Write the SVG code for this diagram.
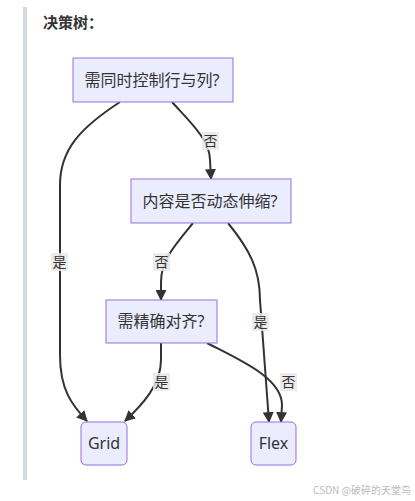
<svg xmlns="http://www.w3.org/2000/svg" width="415" height="501" viewBox="0 0 415 501">
<style>
.node rect{fill:#ECECFF;stroke:#9370DB;stroke-width:1}
.nt{font-family:"Noto Sans","Noto Sans CJK SC",sans-serif;font-size:16px;fill:#333;text-anchor:middle}
.edge{fill:none;stroke:#333;stroke-width:2;marker-end:url(#arr)}
.lbg{fill:#e8e8e8;opacity:0.85}
.lt{font-family:"Noto Sans CJK SC",sans-serif;font-size:14px;fill:#333;text-anchor:middle}
</style>
<defs>
<marker id="arr" viewBox="0 0 10 10" refX="9" refY="5" markerUnits="userSpaceOnUse" markerWidth="11" markerHeight="11" orient="auto">
<path d="M0,0 L10,5 L0,10 z" fill="#333"/>
</marker>
</defs>
<rect x="23" y="7" width="4" height="473" fill="#d5d9e0"/>
<text x="43" y="28" font-family="Noto Sans CJK SC,sans-serif" font-size="15" font-weight="bold" fill="#333">决策树：</text>
<g id="connectors">
<path class="edge" d="M120,102 C80,128 60,150 60,185 L60,355 C60,390 72,405 87,421"/>
<path class="edge" d="M172,102 C190,122 210,140 210,160 L211,179"/>
<path class="edge" d="M193,223 C175,245 161,260 161,282 L161,300"/>
<path class="edge" d="M228,223 C250,250 260,270 260,300 L269,422"/>
<path class="edge" d="M161,343 L161,360 C161,385 142,405 125,421"/>
<path class="edge" d="M207,343 C240,360 282,378 282,405 L281,422"/>
<rect class="lbg" x="51" y="253" width="17" height="18"/><text class="lt" x="59.5" y="267">是</text>
<rect class="lbg" x="202" y="132" width="17" height="18"/><text class="lt" x="210.5" y="146">否</text>
<rect class="lbg" x="153" y="253" width="17" height="18"/><text class="lt" x="161.5" y="267">否</text>
<rect class="lbg" x="252" y="313" width="17" height="18"/><text class="lt" x="260.5" y="327">是</text>
<rect class="lbg" x="153" y="373" width="17" height="18"/><text class="lt" x="161.5" y="387">是</text>
<rect class="lbg" x="280" y="373" width="17" height="18"/><text class="lt" x="288.5" y="387">否</text>
</g>
<g id="nodeA" class="node"><rect x="73" y="58" width="160" height="44"/><text class="nt" x="152" y="86">需同时控制行与列?</text></g>
<g id="nodeB" class="node"><rect x="131" y="179" width="160" height="44"/><text class="nt" x="210" y="207">内容是否动态伸缩?</text></g>
<g id="nodeC" class="node"><rect x="106" y="300" width="111" height="43"/><text class="nt" x="161" y="327">需精确对齐?</text></g>
<g id="grid" class="node"><rect x="81" y="422" width="46" height="43" rx="5"/><text class="nt" x="104" y="449">Grid</text></g>
<g id="flex" class="node"><rect x="251" y="422" width="45" height="43" rx="5"/><text class="nt" x="273.5" y="449">Flex</text></g>
<text x="411" y="494" text-anchor="end" font-family="Noto Sans CJK SC,sans-serif" font-size="10" fill="#bbb">CSDN @破碎的天堂鸟</text>
</svg>
